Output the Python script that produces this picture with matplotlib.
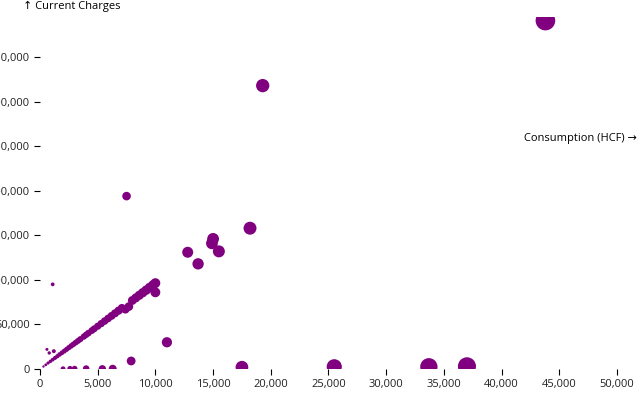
import matplotlib
matplotlib.use("Agg")
import matplotlib.pyplot as plt
import numpy as np

consumption = [300, 500, 700, 900, 1100, 1300, 1500, 1700, 1900, 2100, 2300, 2500, 2700, 2900, 3100,
               3300, 3500, 3800, 4000, 4200, 4500, 4700, 5000, 5300, 5600, 5900, 6200, 6500, 6800,
               7100, 7400, 7700, 8000, 8300, 8600, 8900, 9200, 9500, 9800, 10000,
               7500, 19300, 43800, 18200, 15000, 14900, 12800, 13700, 15500, 10000, 11000, 7900,
               17500, 25500, 33700, 37000, 6300, 5400, 4000, 3000, 2000, 1100, 600, 1200, 800, 2600]
charges = [2800, 4700, 6700, 8600, 10500, 12400, 14300, 16300, 18200, 20100, 22000, 24000, 25900, 27800, 29700,
           31600, 33500, 36400, 38400, 40300, 43200, 45100, 48000, 50900, 53800, 56700, 59600, 62500, 65400,
           68300, 67000, 70000, 76900, 79800, 82700, 85600, 88500, 91400, 94300, 96400,
           194000, 318000, 391000, 158000, 146000, 141000, 131000, 118000, 132000, 86000, 30000, 9000,
           2000, 2500, 2500, 3000, 300, 200, 500, 400, 300, 95000, 22000, 20000, 18000, 400]

x = np.array(consumption, float)
y = np.array(charges, float)
r_px = 0.045 * np.sqrt(x) + 0.4
s = (2 * r_px * 0.72) ** 2

fig = plt.figure(figsize=(6.4, 4.0), dpi=100)
ax = fig.add_axes([0.0625, 0.0775, 0.9015, 0.88])
ax.scatter(x, y, s=s, color="#800080", linewidths=0)
ax.set_xlim(0, 50000)
ax.set_ylim(0, 395000)
ax.set_xticks(np.arange(0, 50001, 5000))
ax.set_yticks(np.arange(0, 350001, 50000))
ax.xaxis.set_major_formatter(matplotlib.ticker.FuncFormatter(lambda v, p: f"{int(v):,}"))
ax.yaxis.set_major_formatter(matplotlib.ticker.FuncFormatter(lambda v, p: f"{int(v):,}"))
for sp in ax.spines.values():
    sp.set_visible(False)
ax.tick_params(labelsize=8, length=4, color="black", labelcolor="#222")
for t in ax.get_xticklabels() + ax.get_yticklabels():
    t.set_family("Open Sans")
ax.text(-0.03, 1.015, "↑ Current Charges", transform=ax.transAxes, fontsize=8, family=["Open Sans", "DejaVu Sans"], va="bottom", ha="left")
fig.text(0.995, 0.64, "Consumption (HCF) →", fontsize=8, family=["Open Sans", "DejaVu Sans"], va="bottom", ha="right")
fig.savefig("out.png")
